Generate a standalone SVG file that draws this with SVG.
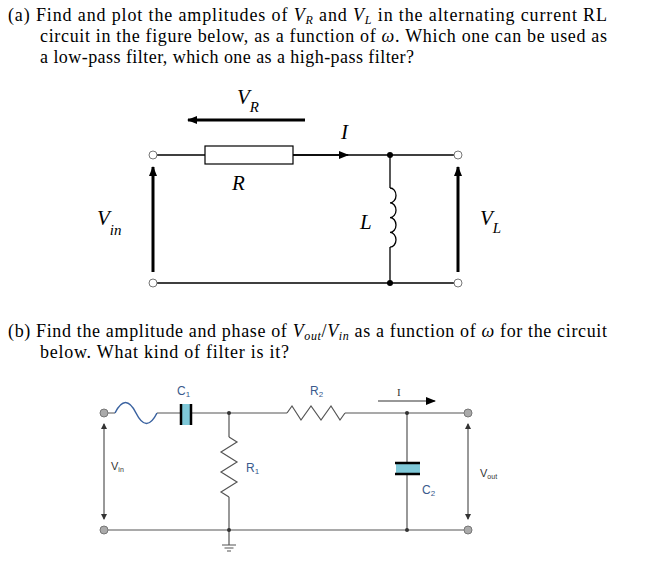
<svg xmlns="http://www.w3.org/2000/svg" width="669" height="564" viewBox="0 0 669 564">
<style>
.t{font-family:"Liberation Serif",serif;font-size:18px;fill:#000}
.m{font-family:"Liberation Serif",serif;font-style:italic;fill:#000}
.s{font-family:"Liberation Sans",Arial,sans-serif;font-size:12px;fill:#3a5a8c}
.w{stroke:#000;stroke-width:1.3;fill:none}
.g{stroke:#555;stroke-width:1.2;fill:none}
</style>
<defs>
<marker id="ah" markerWidth="10" markerHeight="10" refX="9" refY="5" orient="auto" markerUnits="userSpaceOnUse"><path d="M0,1 L10,5 L0,9z" fill="#000"/></marker>
<marker id="sa" markerWidth="6" markerHeight="6" refX="5" refY="3" orient="auto-start-reverse" markerUnits="userSpaceOnUse"><path d="M0,0 L6,3 L0,6z" fill="#333"/></marker>
</defs>
<rect width="669" height="564" fill="#fff"/>
<text class="t" x="8" y="21" textLength="599" lengthAdjust="spacing">(a) Find and plot the amplitudes of <tspan font-style="italic">V<tspan font-size="12" dy="3">R</tspan></tspan><tspan dy="-3"> and </tspan><tspan font-style="italic">V<tspan font-size="12" dy="3">L</tspan></tspan><tspan dy="-3"> in the alternating current RL</tspan></text>
<text class="t" x="40" y="42" textLength="567" lengthAdjust="spacing">circuit in the figure below, as a function of <tspan font-style="italic">ω</tspan>. Which one can be used as</text>
<text class="t" x="40" y="63" textLength="374" lengthAdjust="spacing">a low-pass filter, which one as a high-pass filter?</text>
<text class="t" x="8" y="337" textLength="599" lengthAdjust="spacing">(b) Find the amplitude and phase of <tspan font-style="italic">V<tspan font-size="12" dy="3">out</tspan></tspan><tspan dy="-3">/</tspan><tspan font-style="italic">V<tspan font-size="12" dy="3">in</tspan></tspan><tspan dy="-3"> as a function of </tspan><tspan font-style="italic">ω</tspan> for the circuit</text>
<text class="t" x="40" y="358" textLength="249" lengthAdjust="spacing">below. What kind of filter is it?</text>
<g id="circuitA">
<g id="wiresA">
<path class="w" d="M157,155 H205 M293,155 H454 M157,283 H454 M390,155 V188 M390,247 V283"/>
<path class="w" d="M293,155 H348" marker-end="url(#ah)"/>
<path d="M305,120 H188" stroke="#000" stroke-width="3" marker-end="url(#ah)"/>
<path d="M153,272 V167" stroke="#000" stroke-width="3" marker-end="url(#ah)"/>
<path d="M458,272 V167" stroke="#000" stroke-width="3" marker-end="url(#ah)"/>
</g>
<g id="R"><rect x="205" y="146" width="88" height="18" fill="#fff" stroke="#000" stroke-width="1.2"/></g>
<g id="L"><path class="w" d="M390,188 a6,7.4 0 0 1 0,14.8 a6,7.4 0 0 1 0,14.8 a6,7.4 0 0 1 0,14.8 a6,7.4 0 0 1 0,14.8"/></g>
<g id="nodesA" fill="#fff" stroke="#777">
<circle cx="153" cy="155" r="4"/><circle cx="153" cy="283" r="4"/><circle cx="458" cy="155" r="4"/><circle cx="458" cy="283" r="4"/>
</g>
<circle cx="390" cy="155" r="3" fill="#000"/><circle cx="390" cy="283" r="3" fill="#000"/>
<text class="m" x="237" y="104" font-size="21">V<tspan font-size="15" dy="8">R</tspan></text>
<text class="m" x="341" y="139" font-size="21">I</text>
<text class="m" x="232" y="190" font-size="21">R</text>
<text class="m" x="360" y="229" font-size="21">L</text>
<text class="m" x="97" y="225" font-size="21">V<tspan font-size="15" dy="10">in</tspan></text>
<text class="m" x="480" y="225" font-size="21">V<tspan font-size="15" dy="8">L</tspan></text>
</g>
<g id="circuitB">
<g id="wiresB">
<path class="g" d="M108,413 H115 M157,413 H181 M191,413 H287 M345,413 H464 M108,530 H464 M229,413 V437 M229,497 V545 M407,413 V463 M407,474 V530"/>
<path class="g" d="M222,545 H236 M224.5,548 H233.5 M227,551 H231"/>
<path d="M378,401 H435" stroke="#333" stroke-width="1.2" marker-end="url(#ah)"/>
<path d="M104,424 V519" stroke="#333" stroke-width="1" marker-start="url(#sa)" marker-end="url(#sa)"/>
<path d="M468,424 V519" stroke="#333" stroke-width="1" marker-start="url(#sa)" marker-end="url(#sa)"/>
</g>
<g id="sine"><path d="M115,413 C122,399 129,399 136,413 C143,427 150,427 157,413" stroke="#3a62a0" stroke-width="1.5" fill="none"/></g>
<g id="C1"><rect x="181" y="404" width="10" height="21" fill="#7fc8d8"/><path d="M181,404 V425 M191,404 V425" stroke="#000" stroke-width="2.5"/></g>
<g id="R1"><path class="g" d="M229,437 L237,442 L221,452 L237,462 L221,472 L237,482 L221,492 L229,497"/></g>
<g id="R2"><path class="g" d="M287,413 L292,406 L301,420 L311,406 L321,420 L331,406 L340,420 L345,413"/></g>
<g id="C2"><rect x="396" y="463" width="24" height="11" fill="#7fc8d8"/><path d="M395,463 H420 M395,474 H420" stroke="#000" stroke-width="2.5"/></g>
<g id="nodesB" fill="#aaa" stroke="#777">
<circle cx="104" cy="413" r="4"/><circle cx="104" cy="530" r="4"/><circle cx="468" cy="413" r="4"/><circle cx="468" cy="530" r="4"/>
</g>
<g fill="#333"><circle cx="229" cy="413" r="2"/><circle cx="229" cy="530" r="2"/><circle cx="407" cy="413" r="2"/><circle cx="407" cy="530" r="2"/></g>
<text class="s" x="177" y="395">C<tspan font-size="8" dy="2">1</tspan></text>
<text class="s" x="310" y="395">R<tspan font-size="8" dy="2">2</tspan></text>
<text x="397" y="396" font-family="Liberation Serif,serif" font-size="11" fill="#333">I</text>
<text x="111" y="470" font-family="Liberation Sans,sans-serif" font-size="11" fill="#333">V<tspan font-size="7" dy="2">in</tspan></text>
<text class="s" x="246" y="472">R<tspan font-size="8" dy="2">1</tspan></text>
<text class="s" x="422" y="494">C<tspan font-size="8" dy="2">2</tspan></text>
<text x="480" y="477" font-family="Liberation Sans,sans-serif" font-size="11" fill="#333">V<tspan font-size="7" dy="2">out</tspan></text>
</g>
</svg>
